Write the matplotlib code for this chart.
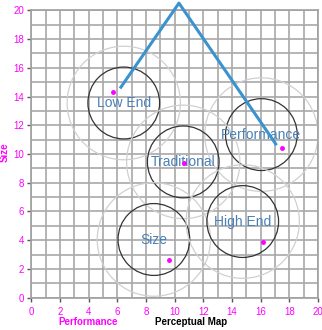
import numpy as np
import matplotlib
matplotlib.use("Agg")
import matplotlib.pyplot as plt
from matplotlib.patches import Circle

plt.rcParams['font.family'] = ['Liberation Sans', 'DejaVu Sans']

# segments of the perceptual map
names = ["Low End", "Performance", "Traditional", "Size", "High End"]
center_x = [6.45, 16.05, 10.6, 8.55, 14.75]
center_y = [13.55, 11.35, 9.45, 4.05, 5.3]
inner_r = [2.5, 2.5, 2.5, 2.5, 2.5]
outer_r = [3.95, 3.95, 3.95, 3.95, 3.95]

# product positions
dot_x = [5.7, 17.5, 10.65, 9.6, 16.15]
dot_y = [14.3, 10.4, 9.4, 2.6, 3.85]

# drift line
line_x = [6.25, 10.3, 17.05]
line_y = [14.65, 20.5, 10.7]

magenta = "#ff00ff"

fig = plt.figure(figsize=(3.22, 3.30), dpi=100)
ax = fig.add_axes([31.3 / 322, (330 - 297.7) / 330, (318 - 31.3) / 322, (297.7 - 10.3) / 330])
ax.set_xlim(0, 20)
ax.set_ylim(0, 20)

ax.set_xticks(np.arange(0, 21, 2))
ax.set_yticks(np.arange(0, 21, 2))
ax.set_xticks(np.arange(0, 21, 1), minor=True)
ax.set_yticks(np.arange(0, 21, 1), minor=True)
ax.grid(True, which="both", color="#a8a8a8", linewidth=1.2)
ax.set_axisbelow(True)
ax.tick_params(which="major", length=3, width=1, color="#555555", labelsize=7,
               labelcolor=magenta)
ax.tick_params(axis="x", which="major", pad=4)
ax.tick_params(axis="y", which="major", pad=2)
ax.tick_params(which="minor", length=0)
for s in ax.spines.values():
    s.set_color("#a0a0a0")
    s.set_linewidth(1.2)

for i in range(len(names)):
    ax.add_patch(Circle((center_x[i], center_y[i]), outer_r[i], fill=False,
                        edgecolor="#d0d0d0", linewidth=0.9))
    ax.add_patch(Circle((center_x[i], center_y[i]), inner_r[i], fill=False,
                        edgecolor="#333333", linewidth=0.9))
    ax.text(center_x[i], center_y[i], names[i], ha="center", va="center",
            fontsize=10, color="#4a80b8")

ax.plot(dot_x, dot_y, "o", color=magenta, markersize=2.5, zorder=5)
ax.plot(line_x, line_y, color="#3a93cf", linewidth=2.2, clip_on=False, zorder=6)

fig.text(88 / 322, 1 - 322 / 330, "Performance", color=magenta, fontsize=7,
         fontweight="bold", ha="center", va="center")
fig.text(191 / 322, 1 - 322 / 330, "Perceptual Map", color="black", fontsize=7,
         fontweight="bold", ha="center", va="center")
fig.text(5 / 322, 1 - 152 / 330, "Size", color=magenta, fontsize=7,
         fontweight="bold", ha="center", va="center", rotation=90)

fig.savefig("out.png", dpi=100)
